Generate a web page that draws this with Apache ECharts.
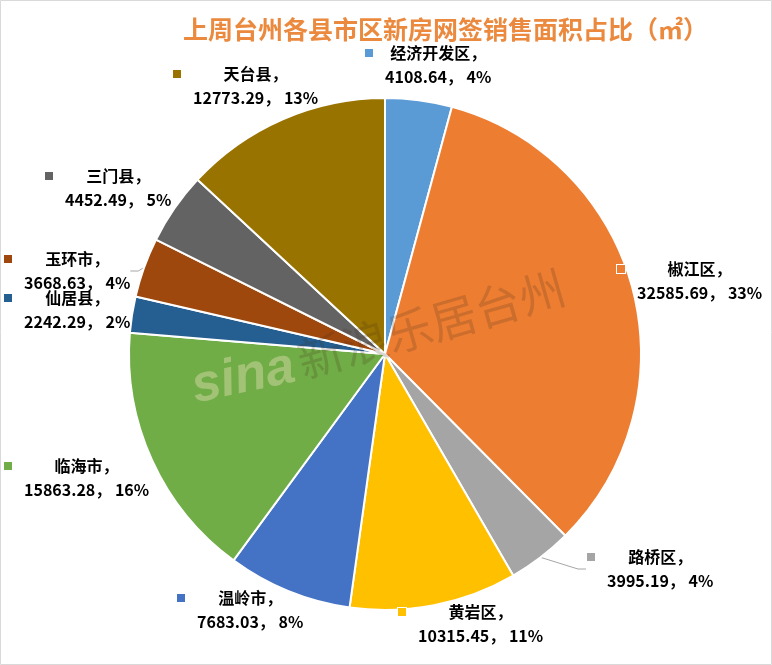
<!DOCTYPE html>
<html><head><meta charset="utf-8">
<script src="https://cdn.jsdelivr.net/npm/echarts@6/dist/echarts.min.js"></script>
<style>html,body{margin:0;padding:0;background:#fff}#c{width:772px;height:665px}</style>
</head><body><div id="c"></div>
<script>
const categories = ['经济开发区','椒江区','路桥区','黄岩区','温岭市','临海市','仙居县','玉环市','三门县','天台县'];
const values = [4108.64,32585.69,3995.19,10315.45,7683.03,15863.28,2242.29,3668.63,4452.49,12773.29];
const colors = ['#5B9BD5','#ED7D31','#A5A5A5','#FFC000','#4472C4','#70AD47','#255E91','#9E480E','#636363','#997300'];
const titleText = '上周台州各县市区新房网签销售面积占比（㎡）';
const leaderLines = ['路桥区','玉环市'];

// label block top-left positions (layout only)
const labelPos = {
  '经济开发区':[365,41], '椒江区':[617,257], '路桥区':[587,545], '黄岩区':[398,600],
  '温岭市':[177,586], '临海市':[4,454], '仙居县':[4,286], '玉环市':[4,247],
  '三门县':[45,164], '天台县':[173,62]
};

const FONT = "'Noto Sans CJK SC'";
const data = categories.map((name, i) => ({
  name, value: values[i],
  itemStyle: {color: colors[i]},
  label: {rich: {m: {width: 8, height: 8, backgroundColor: colors[i], borderColor: '#fff', borderWidth: 1, align: 'left'}}},
  labelLine: {show: leaderLines.includes(name), lineStyle: {color: '#a6a6a6', width: 1}}
}));

const chart = echarts.init(document.getElementById('c'), null, {renderer: 'canvas'});
chart.setOption({
  backgroundColor: '#fff',
  animation: false,
  title: {
    text: titleText, left: 178, top: 12,
    textStyle: {color: '#EB8A3E', fontSize: 25, fontWeight: 'bold', fontFamily: FONT}
  },
  graphic: {
    elements: [
      {type: 'rect', z: 0, shape: {x: 0.5, y: 0.5, width: 771, height: 664}, style: {fill: 'none', stroke: '#d9d9d9', lineWidth: 1}},
      {type: 'text', z: 100, silent: true, x: 305, y: 384, rotation: 16 * Math.PI / 180,
        style: {text: '新浪乐居台州', font: '46px ' + FONT, fill: 'rgba(70,45,25,0.2)', align: 'left', verticalAlign: 'bottom'}},
      {type: 'text', z: 100, silent: true, x: 198, y: 414, rotation: 12 * Math.PI / 180,
        style: {text: 'sina', font: 'italic bold 52px Arial', fill: 'rgba(255,235,205,0.35)', align: 'left', verticalAlign: 'bottom'}}
    ]
  },
  series: [{
    type: 'pie',
    center: [385, 354],
    radius: 256,
    startAngle: 90,
    clockwise: true,
    avoidLabelOverlap: false,
    percentPrecision: 0,
    emphasis: {disabled: true},
    itemStyle: {borderColor: '#fff', borderWidth: 2},
    label: {
      show: true, position: 'outside',
      fontFamily: FONT, fontWeight: 'bold', fontSize: 16, color: '#000', lineHeight: 24,
      formatter: p => `{m|}{s|}{b|${p.name}，}\n{g|}{v|${p.value.toFixed(2)}， ${p.percent}%}`,
      rich: {
        m: {width: 8, height: 8, align: 'left'},
        s: {width: 12, align: 'left', fontSize: 16, lineHeight: 24},
        g: {width: 20, align: 'left', fontSize: 16, lineHeight: 24},
        b: {align: 'center', fontFamily: FONT, fontWeight: 'bold', fontSize: 16, color: '#000', lineHeight: 24},
        v: {align: 'left', fontFamily: FONT, fontWeight: 'bold', fontSize: 16, color: '#000', lineHeight: 24}
      }
    },
    labelLine: {length: 8, length2: 8},
    labelLayout: params => {
      const p = labelPos[categories[params.dataIndex]];
      return {x: p[0], y: p[1], align: 'left', verticalAlign: 'top', hideOverlap: false};
    },
    data
  }]
});
</script></body></html>
